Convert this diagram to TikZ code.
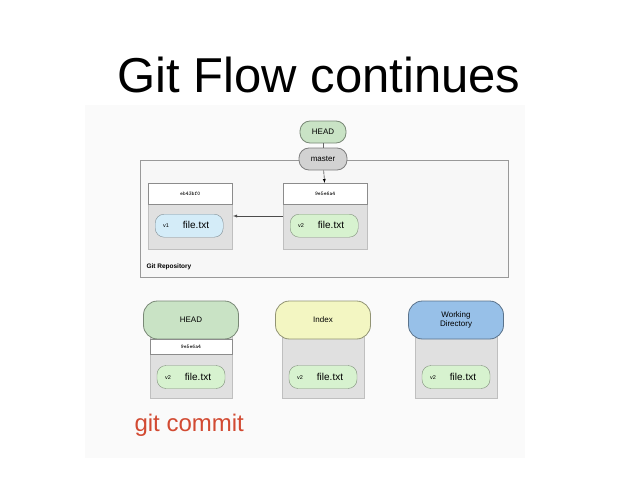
\documentclass[tikz,border=0pt]{standalone}
\usepackage{fontspec}
\setmainfont{Liberation Sans}
\begin{document}
\begin{tikzpicture}[x=1pt,y=-1pt,
  pill/.style={draw=#1!60!black,rounded corners=10pt,line width=0.8pt},
  body/.style={fill=black!12,draw=black!25},
  hdr/.style={fill=white,draw=black!45,font=\ttfamily\bfseries\fontsize{5.5}{6}\selectfont},
  fp/.style={fill=#1,draw=#1!60!black,rounded corners=9pt,minimum width=68pt,minimum height=23pt},
  lbl/.style={font=\fontsize{8}{9.5}\selectfont}]
\definecolor{gr}{HTML}{C9E3C5}\definecolor{lg}{HTML}{D7F2CF}\definecolor{bl}{HTML}{D4ECF8}
\definecolor{ye}{HTML}{F3F6C2}\definecolor{wd}{HTML}{97C0E8}\definecolor{ms}{HTML}{D2D2D2}
\definecolor{rd}{HTML}{D24A32}
\useasboundingbox (0,0) rectangle (638,479);
\fill[white] (0,0) rectangle (638,479);
\fill[black!2] (85,105) rectangle (525,458);
\node[font=\fontsize{49}{56}\selectfont] (title) at (319,75) {Git Flow continues};
% repository
\draw[black!40,fill=white!97!black] (140,160) rectangle (508,277);
\node[font=\bfseries\fontsize{6.5}{8}\selectfont,anchor=west] (repo) at (143,267) {Git Repository};
% commits
\foreach \n/\x/\h/\v/\c in {l/148/eb43bf0/v1/bl, r/283/9e5e6a4/v2/lg}{
  \draw[body] (\x,204) rectangle ++(84,45);
  \node[hdr,minimum width=84pt,minimum height=21pt,anchor=north west,inner sep=0pt] (h\n) at (\x,183) {\h};
  \node[fp=\c,anchor=north west,inner sep=0pt] (f\n) at (\x+7,214) {};
  \node[font=\fontsize{5.5}{6}\selectfont] at (\x+18,226) {\v};
  \node[font=\fontsize{10}{11}\selectfont] at (\x+48,225) {file.txt};
}
\coordinate (ra) at (283,216); \coordinate (la) at (233,216);
\draw[-latex,black!70] (ra) -- (la);
% HEAD master
\node[pill=gr,fill=gr,minimum width=46pt,minimum height=22pt,lbl] (head) at (323,132) {HEAD};
\node[pill=ms,fill=ms,minimum width=48pt,minimum height=22pt,lbl] (master) at (323,159) {master};
\draw[black!60] (head) -- (master);
\draw[-latex,black] (master) -- (hr);
% bottom trees
\foreach \n/\x/\c/\t in {hd/191/gr/HEAD, ix/323/ye/Index, wk/456/wd/{Working\\Directory}}{
  \draw[body] (\x-41,320) rectangle (\x+41,398);
  \node[fp=lg,inner sep=0pt] (b\n) at (\x,377) {};
  \node[font=\fontsize{5.5}{6}\selectfont] at (\x-23,378) {v2};
  \node[font=\fontsize{10}{11}\selectfont] at (\x+7,377) {file.txt};
  \node[pill=\c,fill=\c,rounded corners=14pt,minimum width=95pt,minimum height=38pt,lbl,align=center,inner sep=0pt] (p\n) at (\x,320) {\t};
}
\node[hdr,minimum width=82pt,minimum height=15pt,inner sep=0pt] (hh) at (191,346.5) {9e5e6a4};
\node[text=rd,font=\fontsize{24}{28}\selectfont,anchor=west] (gc) at (131,425) {git commit};
\end{tikzpicture}
\end{document}
